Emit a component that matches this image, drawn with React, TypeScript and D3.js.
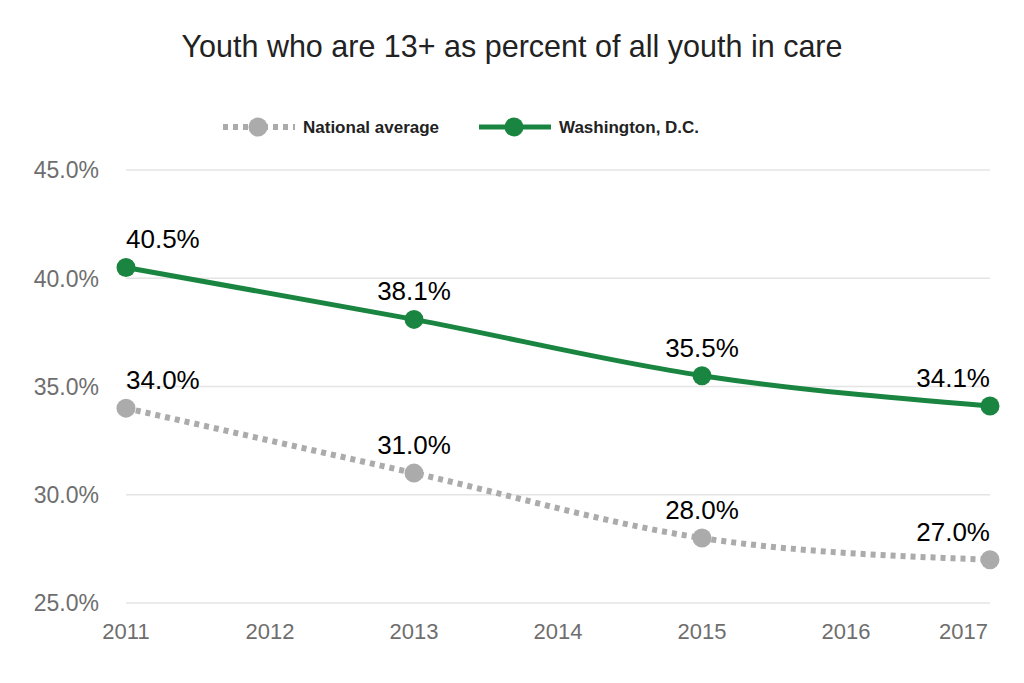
import { useRef, useEffect } from 'react'
import * as d3 from 'd3'

// Youth aged 13+ as a share of all youth in care
const years = [2011, 2012, 2013, 2014, 2015, 2016, 2017]
const pointYears = [2011, 2013, 2015, 2017]
const nationalValues = [34.0, 31.0, 28.0, 27.0]
const dcValues = [40.5, 38.1, 35.5, 34.1]
const yTicks = [25, 30, 35, 40, 45]

const title = 'Youth who are 13+ as percent of all youth in care'

const series = [
    { name: 'National average', values: nationalValues, color: '#ababab', dash: '5,5', width: 6 },
    { name: 'Washington, D.C.', values: dcValues, color: '#1a8540', dash: null, width: 5 },
]

export default function App() {
    const svgRef = useRef<SVGSVGElement>(null)

    useEffect(() => {
        if (!svgRef.current) return
        const width = 1024
        const height = 683
        const svg = d3.select(svgRef.current)
        svg.selectAll('*').remove()
        svg.attr('width', width).attr('height', height)

        const font = '"Liberation Sans", Arial, sans-serif'
        const margin = { top: 170, right: 34, bottom: 80, left: 126 }
        const innerW = width - margin.left - margin.right
        const innerH = height - margin.top - margin.bottom

        svg.append('rect').attr('width', width).attr('height', height).attr('fill', '#fff')

        // Title
        svg.append('text')
            .attr('x', width / 2)
            .attr('y', 57)
            .attr('text-anchor', 'middle')
            .style('font-family', font)
            .style('font-size', '30.5px')
            .style('fill', '#222')
            .text(title)

        const g = svg.append('g').attr('transform', `translate(${margin.left},${margin.top})`)

        const x = d3.scaleLinear().domain([2011, 2017]).range([0, innerW])
        const y = d3.scaleLinear().domain([25, 45]).range([innerH, 0])

        // Grid lines
        g.selectAll('.grid')
            .data(yTicks)
            .enter()
            .append('line')
            .attr('x1', 0)
            .attr('x2', innerW)
            .attr('y1', d => y(d))
            .attr('y2', d => y(d))
            .style('stroke', '#e4e4e4')
            .style('stroke-width', 1.5)

        // Y axis labels
        g.selectAll('.y-label')
            .data(yTicks)
            .enter()
            .append('text')
            .attr('x', -27)
            .attr('y', d => y(d))
            .attr('dy', '0.36em')
            .attr('text-anchor', 'end')
            .style('font-family', font)
            .style('font-size', '23px')
            .style('fill', '#6e6e6e')
            .text(d => `${d.toFixed(1)}%`)

        // X axis labels; the last one is kept inside the plot area
        const lastYear = years[years.length - 1]
        g.selectAll('.x-label')
            .data(years)
            .enter()
            .append('text')
            .attr('x', d => (d === lastYear ? x(d) - 2 : x(d)))
            .attr('y', innerH + 36)
            .attr('text-anchor', d => (d === lastYear ? 'end' : 'middle'))
            .style('font-family', font)
            .style('font-size', '22px')
            .style('fill', '#6e6e6e')
            .text(d => String(d))

        const line = d3.line<number>()
            .x((_, i) => x(pointYears[i]))
            .y(d => y(d))
            .curve(d3.curveMonotoneX)

        series.forEach(s => {
            g.append('path')
                .datum(s.values)
                .attr('d', line)
                .style('fill', 'none')
                .style('stroke', s.color)
                .style('stroke-width', s.width)
                .style('stroke-dasharray', s.dash)

            g.selectAll(null)
                .data(s.values)
                .enter()
                .append('circle')
                .attr('cx', (_, i) => x(pointYears[i]))
                .attr('cy', d => y(d))
                .attr('r', 9.5)
                .style('fill', s.color)

            const last = s.values.length - 1
            g.selectAll(null)
                .data(s.values)
                .enter()
                .append('text')
                .attr('x', (_, i) => x(pointYears[i]))
                .attr('y', d => y(d) - 19)
                .attr('text-anchor', (_, i) => (i === 0 ? 'start' : i === last ? 'end' : 'middle'))
                .style('font-family', font)
                .style('font-size', '26px')
                .style('fill', '#000')
                .text(d => `${d.toFixed(1)}%`)
        })

        // Legend
        const legendX = [223, 479]
        const legend = svg.append('g').attr('transform', 'translate(0,127)')
        series.forEach((s, i) => {
            const lg = legend.append('g').attr('transform', `translate(${legendX[i]},0)`)
            lg.append('line')
                .attr('x1', 0)
                .attr('x2', 72)
                .attr('y1', 0)
                .attr('y2', 0)
                .style('stroke', s.color)
                .style('stroke-width', s.width)
                .style('stroke-dasharray', s.dash)
            lg.append('circle').attr('cx', 35).attr('cy', 0).attr('r', 9.5).style('fill', s.color)
            lg.append('text')
                .attr('x', 80)
                .attr('y', 0)
                .attr('dy', '0.36em')
                .style('font-family', font)
                .style('font-size', '17px')
                .style('font-weight', 'bold')
                .style('fill', '#222')
                .text(s.name)
        })
    }, [])

    return (
        <svg ref={svgRef} style={{ position: 'absolute', left: 0, top: 0, width: 1024, height: 683 }} />
    )
}
